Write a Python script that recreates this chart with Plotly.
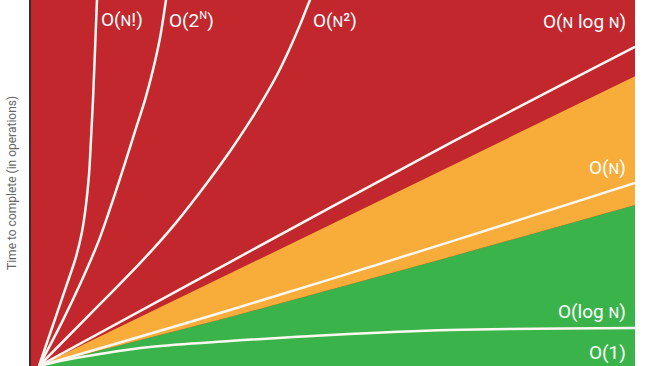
import plotly.graph_objects as go

# ---- data (N on 0-100, operations on 0-100) ----
fact_x = [0, 2.35, 4.53, 6.21, 7.21, 7.89, 8.39, 8.72, 9.06, 9.40, 9.73, 9.90]
fact_y = [0, 11.2, 21.6, 29.8, 36.6, 44.0, 52.2, 61.7, 72.7, 86.3, 100, 105.5]

exp_x = [0, 3.86, 7.21, 10.07, 12.42, 14.60, 16.44, 17.79, 19.13, 20.30, 21.31, 21.81]
exp_y = [0, 12.0, 23.5, 34.4, 45.4, 56.3, 65.8, 72.7, 80.9, 89.6, 100, 105.5]

quad_x = [0, 10.23, 16.95, 21.98, 27.01, 32.05, 35.40, 37.58, 39.93, 42.11, 43.79, 45.47, 46.98]
quad_y = [0, 16.9, 28.1, 37.2, 47.5, 58.7, 66.9, 72.7, 79.5, 86.9, 93.2, 100, 105.5]

nlogn_x = [0, 32.05, 68.96, 100]
nlogn_y = [0, 28.4, 60.9, 87.2]

lin_x = [0, 32.05, 68.96, 100]
lin_y = [0, 15.3, 33.9, 50.0]

log_x = [0, 3.52, 10.23, 18.62, 32.05, 48.83, 68.96, 100]
log_y = [0, 1.37, 3.28, 5.19, 6.83, 8.47, 9.84, 10.38]

# zone boundaries
orange_top_x = [0, 47.15, 100]
orange_top_y = [0, 37.2, 79.2]
green_top_x = [0, 32.05, 68.96, 100]
green_top_y = [0, 13.4, 29.8, 44.0]

labels = ["O(N!)", "O(2^N)", "O(N²)", "O(N log N)", "O(N)", "O(log N)", "O(1)"]

RED = "#C1272D"
ORANGE = "#F8AD3B"
GREEN = "#3AB44A"
WHITE = "#FFF8F2"

fig = go.Figure()

fig.add_trace(go.Scatter(x=green_top_x, y=green_top_y, mode="lines",
                         line=dict(width=0, color=GREEN), fill="tozeroy",
                         fillcolor=GREEN, hoverinfo="skip"))
fig.add_trace(go.Scatter(x=orange_top_x, y=orange_top_y, mode="lines",
                         line=dict(width=0, color=ORANGE), fill="tonexty",
                         fillcolor=ORANGE, hoverinfo="skip"))

for xs, ys in [(fact_x, fact_y), (exp_x, exp_y), (quad_x, quad_y),
               (nlogn_x, nlogn_y), (lin_x, lin_y), (log_x, log_y)]:
    fig.add_trace(go.Scatter(x=xs, y=ys, mode="lines",
                             line=dict(color=WHITE, width=2.5, shape="spline", smoothing=1.0),
                             hoverinfo="skip"))

sc = "<span style='font-size:15px'>N</span>"
label_html = {
    "O(N!)": f"O({sc}!)",
    "O(2^N)": "O(2<sup><span style='font-size:11px'>N</span></sup>)",
    "O(N²)": f"O({sc}²)",
    "O(N log N)": f"O({sc} log {sc})",
    "O(N)": f"O({sc})",
    "O(log N)": f"O(log {sc})",
    "O(1)": "O(1)",
}
label_pos = {
    "O(N!)": (10.1, 94.8, "left"),
    "O(2^N)": (21.5, 94.5, "left"),
    "O(N²)": (45.6, 94.5, "left"),
    "O(N log N)": (98.8, 94.0, "right"),
    "O(N)": (98.8, 54.1, "right"),
    "O(log N)": (98.8, 15.0, "right"),
    "O(1)": (98.8, 3.8, "right"),
}
for lab in labels:
    x, y, anc = label_pos[lab]
    fig.add_annotation(x=x, y=y, xref="x", yref="y", text=label_html[lab],
                       showarrow=False, xanchor=anc, yanchor="middle",
                       font=dict(family="Roboto", size=19, color="white"))

fig.add_annotation(x=-0.0315, y=0.5, xref="paper", yref="paper",
                   text="Time to complete (in operations)", textangle=-90,
                   showarrow=False, xanchor="center", yanchor="middle",
                   font=dict(family="Roboto", size=12, color="#666666"))

fig.update_xaxes(range=[-1.34, 100], showgrid=False, zeroline=False,
                 showticklabels=False, ticks="", showline=False)
fig.update_yaxes(range=[0, 100], showgrid=False, zeroline=False, showticklabels=False,
                 ticks="", showline=True, linecolor="#3d2b2b", linewidth=2)

fig.update_layout(width=650, height=366, margin=dict(l=31, r=15, t=0, b=0),
                  plot_bgcolor=RED, paper_bgcolor="white", showlegend=False,
                  hovermode=False)

fig.write_html("out.html", config={"displayModeBar": False},
               post_script="document.body.style.margin='0';document.body.style.padding='0';")
